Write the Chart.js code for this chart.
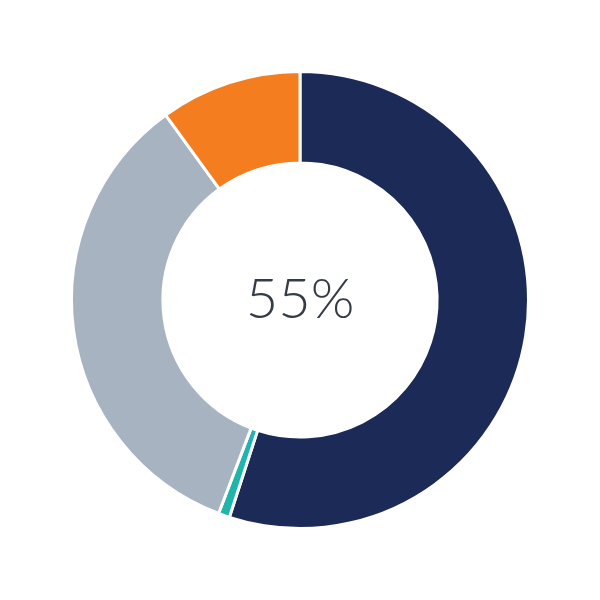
<!DOCTYPE html>
<html>
<head>
<meta charset="utf-8">
<script src="https://cdn.jsdelivr.net/npm/chart.js@4"></script>
<style>
  html, body { margin: 0; padding: 0; background: #ffffff; }
  #wrap { width: 600px; height: 600px; position: relative; }
</style>
</head>
<body>
<div id="wrap"><canvas id="donutChart" width="600" height="600"></canvas></div>
<script>
const labels = ["A", "B", "C", "D"];
const values = [55, 0.8, 34.2, 10];
const colors = ["#1b2a57", "#1fb5ad", "#a8b3c1", "#f47d20"];
const centerText = "55%";

const centerLabel = {
    id: "centerLabel",
    afterDraw(chart) {
        const ctx = chart.ctx;
        const meta = chart.getDatasetMeta(0).data[0];
        ctx.save();
        ctx.font = "300 56px Lato";
        ctx.fillStyle = "#363c46";
        ctx.textAlign = "center";
        ctx.textBaseline = "middle";
        ctx.fillText(centerText, meta.x, meta.y);
        ctx.restore();
    }
};

new Chart(
    document.getElementById("donutChart"),
    {
        type: "doughnut",
        data: {
            labels: labels,
            datasets: [
                {
                    data: values,
                    backgroundColor: colors,
                    borderColor: "#ffffff",
                    borderWidth: 3
                }
            ]
        },
        options: {
            responsive: false,
            animation: false,
            cutout: "60%",
            layout: { padding: 70 },
            plugins: {
                legend: { display: false },
                tooltip: { enabled: false }
            }
        },
        plugins: [centerLabel]
    }
);
</script>
</body>
</html>
